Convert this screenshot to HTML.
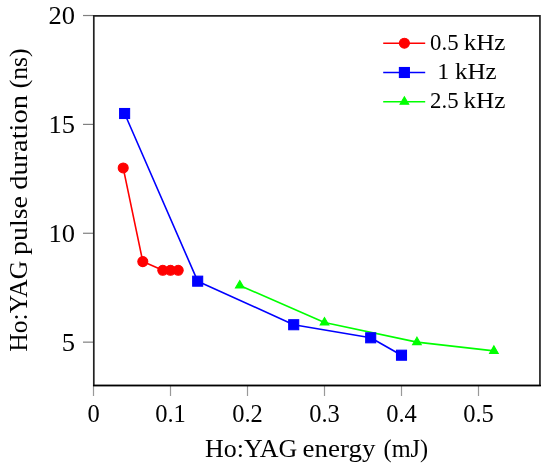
<!DOCTYPE html>
<html><head><meta charset="utf-8"><style>
html,body{margin:0;padding:0;background:#fff;}
svg{display:block;}
text{font-family:"Liberation Serif", serif;fill:#000;}
</style></head><body>
<svg width="550" height="469" viewBox="0 0 550 469">
<rect width="550" height="469" fill="#fff"/>
<line x1="93.50" y1="385.5" x2="93.50" y2="396" stroke="#999" stroke-width="1.2"/>
<line x1="170.50" y1="385.5" x2="170.50" y2="396" stroke="#999" stroke-width="1.2"/>
<line x1="247.50" y1="385.5" x2="247.50" y2="396" stroke="#999" stroke-width="1.2"/>
<line x1="324.50" y1="385.5" x2="324.50" y2="396" stroke="#999" stroke-width="1.2"/>
<line x1="401.50" y1="385.5" x2="401.50" y2="396" stroke="#999" stroke-width="1.2"/>
<line x1="478.50" y1="385.5" x2="478.50" y2="396" stroke="#999" stroke-width="1.2"/>
<line x1="83" y1="342.15" x2="93" y2="342.15" stroke="#808080" stroke-width="1.2"/>
<line x1="83" y1="233.27" x2="93" y2="233.27" stroke="#808080" stroke-width="1.2"/>
<line x1="83" y1="124.40" x2="93" y2="124.40" stroke="#808080" stroke-width="1.2"/>
<line x1="83" y1="15.52" x2="93" y2="15.52" stroke="#808080" stroke-width="1.2"/>
<path d="M93.8,15.8 H539.95 V385.5 H93.8 Z" fill="none" stroke="#222" stroke-width="1.7" stroke-linejoin="miter"/>
<line x1="93" y1="385.5" x2="541" y2="385.5" stroke="#000" stroke-width="1.7"/>
<polyline points="123.20,167.95 142.80,261.60 162.80,270.30 170.50,270.30 178.20,270.30" fill="none" stroke="#f00" stroke-width="1.6" stroke-linejoin="round"/>
<polyline points="124.61,113.51 197.68,281.18 293.70,324.73 370.70,337.79 401.50,355.21" fill="none" stroke="#00f" stroke-width="1.6" stroke-linejoin="round"/>
<polyline points="239.80,285.53 324.50,322.55 416.90,342.15 493.90,350.86" fill="none" stroke="#0f0" stroke-width="1.6" stroke-linejoin="round"/>
<circle cx="123.20" cy="167.95" r="5.0" fill="#f00" stroke="#f00" stroke-width="1.1"/>
<circle cx="142.80" cy="261.60" r="5.0" fill="#f00" stroke="#f00" stroke-width="1.1"/>
<circle cx="162.80" cy="270.30" r="5.0" fill="#f00" stroke="#f00" stroke-width="1.1"/>
<circle cx="170.50" cy="270.30" r="5.0" fill="#f00" stroke="#f00" stroke-width="1.1"/>
<circle cx="178.20" cy="270.30" r="5.0" fill="#f00" stroke="#f00" stroke-width="1.1"/>
<rect x="119.61" y="108.51" width="10.0" height="10.0" fill="#00f" stroke="#00f" stroke-width="1.1"/>
<rect x="192.68" y="276.18" width="10.0" height="10.0" fill="#00f" stroke="#00f" stroke-width="1.1"/>
<rect x="288.70" y="319.73" width="10.0" height="10.0" fill="#00f" stroke="#00f" stroke-width="1.1"/>
<rect x="365.70" y="332.79" width="10.0" height="10.0" fill="#00f" stroke="#00f" stroke-width="1.1"/>
<rect x="396.50" y="350.21" width="10.0" height="10.0" fill="#00f" stroke="#00f" stroke-width="1.1"/>
<polygon points="239.80,280.53 235.47,288.03 244.13,288.03" fill="#0f0" stroke="#0f0" stroke-width="1.1" stroke-linejoin="miter"/>
<polygon points="324.50,317.55 320.17,325.05 328.83,325.05" fill="#0f0" stroke="#0f0" stroke-width="1.1" stroke-linejoin="miter"/>
<polygon points="416.90,337.15 412.57,344.65 421.23,344.65" fill="#0f0" stroke="#0f0" stroke-width="1.1" stroke-linejoin="miter"/>
<polygon points="493.90,345.86 489.57,353.36 498.23,353.36" fill="#0f0" stroke="#0f0" stroke-width="1.1" stroke-linejoin="miter"/>
<line x1="383.2" y1="43.2" x2="425.2" y2="43.2" stroke="#f00" stroke-width="1.6"/>
<circle cx="404.40" cy="43.20" r="5.0" fill="#f00" stroke="#f00" stroke-width="1.1"/>
<line x1="383.2" y1="72.5" x2="425.2" y2="72.5" stroke="#00f" stroke-width="1.6"/>
<rect x="399.40" y="67.50" width="10.0" height="10.0" fill="#00f" stroke="#00f" stroke-width="1.1"/>
<line x1="383.2" y1="101.8" x2="425.2" y2="101.8" stroke="#0f0" stroke-width="1.6"/>
<polygon points="404.40,96.80 400.07,104.30 408.73,104.30" fill="#0f0" stroke="#0f0" stroke-width="1.1" stroke-linejoin="miter"/>
<g style="opacity:0.999">
<text x="75" y="350.65" font-size="24.5" text-anchor="end" textLength="13.3" lengthAdjust="spacingAndGlyphs">5</text>
<text x="75" y="241.77" font-size="24.5" text-anchor="end" textLength="26.5" lengthAdjust="spacingAndGlyphs">10</text>
<text x="75" y="132.90" font-size="24.5" text-anchor="end" textLength="26.5" lengthAdjust="spacingAndGlyphs">15</text>
<text x="75" y="24.02" font-size="24.5" text-anchor="end" textLength="26.5" lengthAdjust="spacingAndGlyphs">20</text>
<text x="93.50" y="422" font-size="24.5" text-anchor="middle">0</text>
<text x="170.50" y="422" font-size="24.5" text-anchor="middle">0.1</text>
<text x="247.50" y="422" font-size="24.5" text-anchor="middle">0.2</text>
<text x="324.50" y="422" font-size="24.5" text-anchor="middle">0.3</text>
<text x="401.50" y="422" font-size="24.5" text-anchor="middle">0.4</text>
<text x="478.50" y="422" font-size="24.5" text-anchor="middle">0.5</text>
<text x="204.984" y="456.7" font-size="25.5" textLength="92.239" lengthAdjust="spacingAndGlyphs">Ho:YAG</text>
<text x="302.501" y="456.7" font-size="25.5" textLength="72.904" lengthAdjust="spacingAndGlyphs">energy</text>
<text x="383.564" y="456.7" font-size="25.5" textLength="44.560" lengthAdjust="spacingAndGlyphs">(mJ)</text>
<text transform="translate(26.8,352.3) rotate(-90)" x="0.585" y="0" font-size="25" textLength="91.023" lengthAdjust="spacingAndGlyphs">Ho:YAG</text>
<text transform="translate(26.8,352.3) rotate(-90)" x="97.375" y="0" font-size="25" textLength="58.840" lengthAdjust="spacingAndGlyphs">pulse</text>
<text transform="translate(26.8,352.3) rotate(-90)" x="162.486" y="0" font-size="25" textLength="94.724" lengthAdjust="spacingAndGlyphs">duration</text>
<text transform="translate(26.8,352.3) rotate(-90)" x="264.079" y="0" font-size="25" textLength="39.861" lengthAdjust="spacingAndGlyphs">(ns)</text>
<text x="430.058" y="49.5" font-size="22.5" textLength="28.485" lengthAdjust="spacingAndGlyphs">0.5</text>
<text x="463.686" y="49.5" font-size="22.5" textLength="41.731" lengthAdjust="spacingAndGlyphs">kHz</text>
<text x="437.333" y="79.2" font-size="22.5" textLength="12.000" lengthAdjust="spacingAndGlyphs">1</text>
<text x="454.994" y="79.2" font-size="22.5" textLength="41.629" lengthAdjust="spacingAndGlyphs">kHz</text>
<text x="430.058" y="108.2" font-size="22.5" textLength="28.485" lengthAdjust="spacingAndGlyphs">2.5</text>
<text x="463.556" y="108.2" font-size="22.5" textLength="41.884" lengthAdjust="spacingAndGlyphs">kHz</text>
</g>
</svg>
</body></html>
